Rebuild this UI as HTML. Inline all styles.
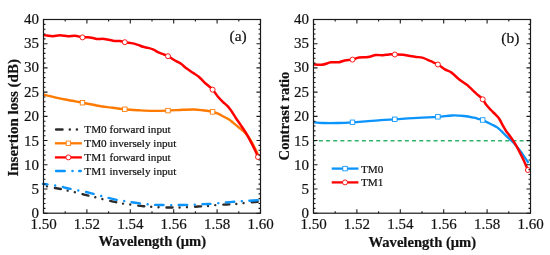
<!DOCTYPE html>
<html><head><meta charset="utf-8"><style>
html,body{margin:0;padding:0;background:#fff;}
svg{display:block;will-change:transform;}
text{font-family:"Liberation Serif",serif;fill:#111;stroke:#111;stroke-width:0.2px;}
.tk{font-size:15px;}
.lg{font-size:11.2px;}
.pl{font-size:15.5px;}
.ax{font-size:14.6px;font-weight:bold;}
</style></head><body>
<svg width="550" height="255" viewBox="0 0 550 255">
<path d="M43.00,185.60 C43.55,185.70 44.63,185.87 46.30,186.20 C47.97,186.53 50.58,187.13 53.00,187.60 C55.42,188.07 58.45,188.52 60.80,189.00 C63.15,189.48 64.82,189.98 67.10,190.50 C69.38,191.02 71.65,191.42 74.50,192.10 C77.35,192.78 80.77,193.75 84.20,194.60 C87.63,195.45 92.13,196.47 95.10,197.20 C98.07,197.93 99.18,198.32 102.00,199.00 C104.82,199.68 108.58,200.55 112.00,201.30 C115.42,202.05 119.50,202.97 122.50,203.50 C125.50,204.03 126.97,204.10 130.00,204.50 C133.03,204.90 137.20,205.52 140.70,205.90 C144.20,206.28 148.03,206.58 151.00,206.80 C153.97,207.02 155.55,207.08 158.50,207.20 C161.45,207.32 165.20,207.45 168.70,207.50 C172.20,207.55 176.45,207.55 179.50,207.50 C182.55,207.45 183.92,207.37 187.00,207.20 C190.08,207.03 194.47,206.70 198.00,206.50 C201.53,206.30 205.27,206.23 208.20,206.00 C211.13,205.77 212.55,205.35 215.60,205.10 C218.65,204.85 222.97,204.70 226.50,204.50 C230.03,204.30 233.85,204.15 236.80,203.90 C239.75,203.65 241.25,203.32 244.20,203.00 C247.15,202.68 251.78,202.25 254.50,202.00 C257.22,201.75 259.50,201.58 260.50,201.50" stroke="#2b2b2b" stroke-width="2.4" fill="none" stroke-linecap="round" stroke-dasharray="6 7 0.01 7.4 0.01 7.99" stroke-dashoffset="16.26"/>
<path d="M43.00,183.90 C43.87,183.98 46.35,184.17 48.20,184.40 C50.05,184.63 52.00,184.97 54.10,185.30 C56.20,185.63 58.77,185.95 60.80,186.40 C62.83,186.85 63.43,187.33 66.30,188.00 C69.17,188.67 74.12,189.60 78.00,190.40 C81.88,191.20 86.87,192.17 89.60,192.80 C92.33,193.43 92.58,193.70 94.40,194.20 C96.22,194.70 98.40,195.25 100.50,195.80 C102.60,196.35 104.17,196.80 107.00,197.50 C109.83,198.20 114.70,199.42 117.50,200.00 C120.30,200.58 121.72,200.67 123.80,201.00 C125.88,201.33 127.22,201.58 130.00,202.00 C132.78,202.42 137.67,203.13 140.50,203.50 C143.33,203.87 144.92,203.98 147.00,204.20 C149.08,204.42 150.17,204.67 153.00,204.80 C155.83,204.93 161.08,204.95 164.00,205.00 C166.92,205.05 168.33,205.10 170.50,205.10 C172.67,205.10 174.08,205.03 177.00,205.00 C179.92,204.97 185.17,204.95 188.00,204.90 C190.83,204.85 192.00,204.80 194.00,204.70 C196.00,204.60 197.67,204.42 200.00,204.30 C202.33,204.18 206.10,204.08 208.00,204.00 C209.90,203.92 209.70,203.95 211.40,203.80 C213.10,203.65 216.00,203.32 218.20,203.10 C220.40,202.88 221.77,202.73 224.60,202.50 C227.43,202.27 232.38,201.92 235.20,201.70 C238.02,201.48 239.30,201.35 241.50,201.20 C243.70,201.05 245.48,201.00 248.40,200.80 C251.32,200.60 256.98,200.17 259.00,200.00 C261.02,199.83 260.25,199.83 260.50,199.80" stroke="#0a94fc" stroke-width="2.4" fill="none" stroke-linecap="round" stroke-dasharray="8.1 7.7 0.1 7.7" stroke-dashoffset="3.52"/>
<path d="M43.00,94.40 C44.97,94.88 50.88,96.40 54.80,97.30 C58.72,98.20 61.90,98.90 66.50,99.80 C71.10,100.70 77.15,101.72 82.40,102.70 C87.65,103.68 93.43,104.92 98.00,105.70 C102.57,106.48 105.33,106.80 109.80,107.40 C114.27,108.00 119.92,108.82 124.80,109.30 C129.68,109.78 134.40,110.03 139.10,110.30 C143.80,110.57 148.22,110.85 153.00,110.90 C157.78,110.95 162.87,110.78 167.80,110.60 C172.73,110.42 178.17,109.98 182.60,109.80 C187.03,109.62 191.07,109.42 194.40,109.50 C197.73,109.58 199.55,109.90 202.60,110.30 C205.65,110.70 210.13,111.35 212.70,111.90 C215.27,112.45 216.12,112.78 218.00,113.60 C219.88,114.42 222.15,115.82 224.00,116.80 C225.85,117.78 227.60,118.53 229.10,119.50 C230.60,120.47 231.37,121.27 233.00,122.60 C234.63,123.93 236.92,125.82 238.90,127.50 C240.88,129.18 243.13,130.87 244.90,132.70 C246.67,134.53 248.07,136.37 249.50,138.50 C250.93,140.63 252.33,143.33 253.50,145.50 C254.67,147.67 255.67,149.75 256.50,151.50 C257.33,153.25 258.17,155.25 258.50,156.00" stroke="#ff7a00" stroke-width="2.4" fill="none"/>
<rect x="80.25" y="100.47" width="4.5" height="4.5" fill="#fff" stroke="#ff7a00" stroke-width="0.85"/>
<rect x="122.55" y="107.05" width="4.5" height="4.5" fill="#fff" stroke="#ff7a00" stroke-width="0.85"/>
<rect x="165.75" y="108.34" width="4.5" height="4.5" fill="#fff" stroke="#ff7a00" stroke-width="0.85"/>
<rect x="210.35" y="109.63" width="4.5" height="4.5" fill="#fff" stroke="#ff7a00" stroke-width="0.85"/>
<path d="M43.00,35.00 C43.67,35.10 45.33,35.40 47.00,35.60 C48.67,35.80 50.83,36.25 53.00,36.20 C55.17,36.15 57.50,35.28 60.00,35.30 C62.50,35.32 65.50,36.23 68.00,36.30 C70.50,36.37 72.58,35.52 75.00,35.70 C77.42,35.88 80.33,37.15 82.50,37.40 C84.67,37.65 86.25,37.10 88.00,37.20 C89.75,37.30 91.33,37.70 93.00,38.00 C94.67,38.30 96.17,38.85 98.00,39.00 C99.83,39.15 101.50,38.62 104.00,38.90 C106.50,39.18 110.33,40.35 113.00,40.70 C115.67,41.05 118.03,40.75 120.00,41.00 C121.97,41.25 122.63,41.80 124.80,42.20 C126.97,42.60 130.80,42.95 133.00,43.40 C135.20,43.85 136.33,44.33 138.00,44.90 C139.67,45.47 141.33,46.30 143.00,46.80 C144.67,47.30 146.33,47.47 148.00,47.90 C149.67,48.33 151.17,48.60 153.00,49.40 C154.83,50.20 157.17,51.85 159.00,52.70 C160.83,53.55 162.50,53.92 164.00,54.50 C165.50,55.08 166.17,55.20 168.00,56.20 C169.83,57.20 172.83,59.23 175.00,60.50 C177.17,61.77 179.17,62.55 181.00,63.80 C182.83,65.05 184.02,66.50 186.00,68.00 C187.98,69.50 190.77,71.35 192.90,72.80 C195.03,74.25 196.85,75.07 198.80,76.70 C200.75,78.33 202.32,80.47 204.60,82.60 C206.88,84.73 210.27,87.13 212.50,89.50 C214.73,91.87 216.28,94.75 218.00,96.80 C219.72,98.85 221.08,100.13 222.80,101.80 C224.52,103.47 226.73,105.07 228.30,106.80 C229.87,108.53 230.92,110.28 232.20,112.20 C233.48,114.12 234.60,116.18 236.00,118.30 C237.40,120.42 238.97,122.50 240.60,124.90 C242.23,127.30 244.07,129.83 245.80,132.70 C247.53,135.57 249.42,139.08 251.00,142.10 C252.58,145.12 254.13,148.32 255.30,150.80 C256.47,153.28 257.55,155.97 258.00,157.00" stroke="#ff0000" stroke-width="2.5" fill="none"/>
<circle cx="82.50" cy="37.40" r="2.5" fill="#fff" stroke="#ff0000" stroke-width="0.9"/>
<circle cx="124.80" cy="42.20" r="2.5" fill="#fff" stroke="#ff0000" stroke-width="0.9"/>
<circle cx="168.00" cy="56.20" r="2.5" fill="#fff" stroke="#ff0000" stroke-width="0.9"/>
<circle cx="212.60" cy="89.63" r="2.5" fill="#fff" stroke="#ff0000" stroke-width="0.9"/>
<circle cx="258.00" cy="157.00" r="2.5" fill="#fff" stroke="#ff0000" stroke-width="0.9"/>
<path d="M313.5,140.75H530" stroke="#2fb36a" stroke-width="1.4" stroke-dasharray="4 3.17" stroke-dashoffset="1.8"/>
<path d="M313.00,122.10 C314.67,122.25 318.83,122.85 323.00,123.00 C327.17,123.15 333.08,123.12 338.00,123.00 C342.92,122.88 347.50,122.62 352.50,122.30 C357.50,121.98 363.25,121.45 368.00,121.10 C372.75,120.75 376.50,120.50 381.00,120.20 C385.50,119.90 388.83,119.70 395.00,119.30 C401.17,118.90 410.83,118.22 418.00,117.80 C425.17,117.38 432.33,117.18 438.00,116.80 C443.67,116.42 447.67,115.63 452.00,115.50 C456.33,115.37 460.33,115.63 464.00,116.00 C467.67,116.37 471.67,117.23 474.00,117.70 C476.33,118.17 476.55,118.42 478.00,118.80 C479.45,119.18 481.13,119.40 482.70,120.00 C484.27,120.60 485.83,121.62 487.40,122.40 C488.97,123.18 490.53,123.92 492.10,124.70 C493.67,125.48 495.23,126.02 496.80,127.10 C498.37,128.18 499.93,129.73 501.50,131.20 C503.07,132.67 504.35,134.13 506.20,135.90 C508.05,137.67 510.55,139.65 512.60,141.80 C514.65,143.95 516.53,146.30 518.50,148.80 C520.47,151.30 522.73,154.43 524.40,156.80 C526.07,159.17 527.82,161.97 528.50,163.00" stroke="#0a94fc" stroke-width="2.3" fill="none"/>
<rect x="350.25" y="120.05" width="4.5" height="4.5" fill="#fff" stroke="#0a94fc" stroke-width="0.85"/>
<rect x="392.55" y="117.06" width="4.5" height="4.5" fill="#fff" stroke="#0a94fc" stroke-width="0.85"/>
<rect x="435.65" y="114.55" width="4.5" height="4.5" fill="#fff" stroke="#0a94fc" stroke-width="0.85"/>
<rect x="480.45" y="117.75" width="4.5" height="4.5" fill="#fff" stroke="#0a94fc" stroke-width="0.85"/>
<path d="M313.00,64.30 C314.50,64.38 319.00,65.13 322.00,64.80 C325.00,64.47 328.17,62.73 331.00,62.30 C333.83,61.87 336.67,62.52 339.00,62.20 C341.33,61.88 342.75,60.83 345.00,60.40 C347.25,59.97 350.17,60.10 352.50,59.60 C354.83,59.10 356.42,57.83 359.00,57.40 C361.58,56.97 365.17,57.40 368.00,57.00 C370.83,56.60 373.50,55.28 376.00,55.00 C378.50,54.72 380.83,55.40 383.00,55.30 C385.17,55.20 387.03,54.53 389.00,54.40 C390.97,54.27 392.47,54.43 394.80,54.50 C397.13,54.57 400.47,54.53 403.00,54.80 C405.53,55.07 407.83,55.75 410.00,56.10 C412.17,56.45 413.83,56.60 416.00,56.90 C418.17,57.20 420.53,57.18 423.00,57.90 C425.47,58.62 428.32,60.10 430.80,61.20 C433.28,62.30 435.55,63.13 437.90,64.50 C440.25,65.87 442.68,68.08 444.90,69.40 C447.12,70.72 448.85,70.77 451.20,72.40 C453.55,74.03 456.38,77.13 459.00,79.20 C461.62,81.27 465.07,83.40 466.90,84.80 C468.73,86.20 468.43,86.13 470.00,87.60 C471.57,89.07 474.18,91.65 476.30,93.60 C478.42,95.55 481.08,97.48 482.70,99.30 C484.32,101.12 484.63,102.72 486.00,104.50 C487.37,106.28 489.30,108.30 490.90,110.00 C492.50,111.70 494.22,113.23 495.60,114.70 C496.98,116.17 498.02,117.03 499.20,118.80 C500.38,120.57 501.53,123.23 502.70,125.30 C503.87,127.37 505.07,129.50 506.20,131.20 C507.33,132.90 508.23,133.75 509.50,135.50 C510.77,137.25 512.30,139.32 513.80,141.70 C515.30,144.08 516.93,146.87 518.50,149.80 C520.07,152.73 521.63,155.93 523.20,159.30 C524.77,162.67 527.12,168.22 527.90,170.00" stroke="#ff0000" stroke-width="2.5" fill="none"/>
<circle cx="352.50" cy="59.60" r="2.5" fill="#fff" stroke="#ff0000" stroke-width="0.9"/>
<circle cx="394.80" cy="54.50" r="2.5" fill="#fff" stroke="#ff0000" stroke-width="0.9"/>
<circle cx="437.90" cy="64.50" r="2.5" fill="#fff" stroke="#ff0000" stroke-width="0.9"/>
<circle cx="482.70" cy="99.30" r="2.5" fill="#fff" stroke="#ff0000" stroke-width="0.9"/>
<circle cx="527.90" cy="170.00" r="2.5" fill="#fff" stroke="#ff0000" stroke-width="0.9"/>
<path d="M43.50,213.20h4.00 M260.50,213.20h-4.00 M43.50,208.36h2.00 M260.50,208.36h-2.00 M43.50,203.51h2.00 M260.50,203.51h-2.00 M43.50,198.67h2.00 M260.50,198.67h-2.00 M43.50,193.83h2.00 M260.50,193.83h-2.00 M43.50,188.99h4.00 M260.50,188.99h-4.00 M43.50,184.14h2.00 M260.50,184.14h-2.00 M43.50,179.30h2.00 M260.50,179.30h-2.00 M43.50,174.46h2.00 M260.50,174.46h-2.00 M43.50,169.62h2.00 M260.50,169.62h-2.00 M43.50,164.77h4.00 M260.50,164.77h-4.00 M43.50,159.93h2.00 M260.50,159.93h-2.00 M43.50,155.09h2.00 M260.50,155.09h-2.00 M43.50,150.25h2.00 M260.50,150.25h-2.00 M43.50,145.41h2.00 M260.50,145.41h-2.00 M43.50,140.56h4.00 M260.50,140.56h-4.00 M43.50,135.72h2.00 M260.50,135.72h-2.00 M43.50,130.88h2.00 M260.50,130.88h-2.00 M43.50,126.03h2.00 M260.50,126.03h-2.00 M43.50,121.19h2.00 M260.50,121.19h-2.00 M43.50,116.35h4.00 M260.50,116.35h-4.00 M43.50,111.51h2.00 M260.50,111.51h-2.00 M43.50,106.66h2.00 M260.50,106.66h-2.00 M43.50,101.82h2.00 M260.50,101.82h-2.00 M43.50,96.98h2.00 M260.50,96.98h-2.00 M43.50,92.14h4.00 M260.50,92.14h-4.00 M43.50,87.29h2.00 M260.50,87.29h-2.00 M43.50,82.45h2.00 M260.50,82.45h-2.00 M43.50,77.61h2.00 M260.50,77.61h-2.00 M43.50,72.77h2.00 M260.50,72.77h-2.00 M43.50,67.92h4.00 M260.50,67.92h-4.00 M43.50,63.08h2.00 M260.50,63.08h-2.00 M43.50,58.24h2.00 M260.50,58.24h-2.00 M43.50,53.40h2.00 M260.50,53.40h-2.00 M43.50,48.56h2.00 M260.50,48.56h-2.00 M43.50,43.71h4.00 M260.50,43.71h-4.00 M43.50,38.87h2.00 M260.50,38.87h-2.00 M43.50,34.03h2.00 M260.50,34.03h-2.00 M43.50,29.19h2.00 M260.50,29.19h-2.00 M43.50,24.34h2.00 M260.50,24.34h-2.00 M43.50,19.50h4.00 M260.50,19.50h-4.00 M43.50,213.20v-4.00 M43.50,19.50v4.00 M65.20,213.20v-2.00 M65.20,19.50v2.00 M86.90,213.20v-4.00 M86.90,19.50v4.00 M108.60,213.20v-2.00 M108.60,19.50v2.00 M130.30,213.20v-4.00 M130.30,19.50v4.00 M152.00,213.20v-2.00 M152.00,19.50v2.00 M173.70,213.20v-4.00 M173.70,19.50v4.00 M195.40,213.20v-2.00 M195.40,19.50v2.00 M217.10,213.20v-4.00 M217.10,19.50v4.00 M238.80,213.20v-2.00 M238.80,19.50v2.00 M260.50,213.20v-4.00 M260.50,19.50v4.00" stroke="#1a1a1a" stroke-width="1.1" fill="none"/><rect x="43.50" y="19.50" width="217.00" height="193.70" fill="none" stroke="#1a1a1a" stroke-width="1.2"/><text x="39.00" y="218.20" class="tk" text-anchor="end">0</text><text x="39.00" y="193.99" class="tk" text-anchor="end">5</text><text x="39.00" y="169.77" class="tk" text-anchor="end">10</text><text x="39.00" y="145.56" class="tk" text-anchor="end">15</text><text x="39.00" y="121.35" class="tk" text-anchor="end">20</text><text x="39.00" y="96.84" class="tk" text-anchor="end">25</text><text x="39.00" y="72.33" class="tk" text-anchor="end">30</text><text x="39.00" y="47.91" class="tk" text-anchor="end">35</text><text x="39.00" y="23.50" class="tk" text-anchor="end">40</text><text x="43.50" y="229.20" class="tk" text-anchor="middle">1.50</text><text x="86.90" y="229.20" class="tk" text-anchor="middle">1.52</text><text x="130.30" y="229.20" class="tk" text-anchor="middle">1.54</text><text x="173.70" y="229.20" class="tk" text-anchor="middle">1.56</text><text x="217.10" y="229.20" class="tk" text-anchor="middle">1.58</text><text x="260.50" y="229.20" class="tk" text-anchor="middle">1.60</text>
<path d="M313.50,213.20h4.00 M530.50,213.20h-4.00 M313.50,208.36h2.00 M530.50,208.36h-2.00 M313.50,203.51h2.00 M530.50,203.51h-2.00 M313.50,198.67h2.00 M530.50,198.67h-2.00 M313.50,193.83h2.00 M530.50,193.83h-2.00 M313.50,188.99h4.00 M530.50,188.99h-4.00 M313.50,184.14h2.00 M530.50,184.14h-2.00 M313.50,179.30h2.00 M530.50,179.30h-2.00 M313.50,174.46h2.00 M530.50,174.46h-2.00 M313.50,169.62h2.00 M530.50,169.62h-2.00 M313.50,164.77h4.00 M530.50,164.77h-4.00 M313.50,159.93h2.00 M530.50,159.93h-2.00 M313.50,155.09h2.00 M530.50,155.09h-2.00 M313.50,150.25h2.00 M530.50,150.25h-2.00 M313.50,145.41h2.00 M530.50,145.41h-2.00 M313.50,140.56h4.00 M530.50,140.56h-4.00 M313.50,135.72h2.00 M530.50,135.72h-2.00 M313.50,130.88h2.00 M530.50,130.88h-2.00 M313.50,126.03h2.00 M530.50,126.03h-2.00 M313.50,121.19h2.00 M530.50,121.19h-2.00 M313.50,116.35h4.00 M530.50,116.35h-4.00 M313.50,111.51h2.00 M530.50,111.51h-2.00 M313.50,106.66h2.00 M530.50,106.66h-2.00 M313.50,101.82h2.00 M530.50,101.82h-2.00 M313.50,96.98h2.00 M530.50,96.98h-2.00 M313.50,92.14h4.00 M530.50,92.14h-4.00 M313.50,87.29h2.00 M530.50,87.29h-2.00 M313.50,82.45h2.00 M530.50,82.45h-2.00 M313.50,77.61h2.00 M530.50,77.61h-2.00 M313.50,72.77h2.00 M530.50,72.77h-2.00 M313.50,67.92h4.00 M530.50,67.92h-4.00 M313.50,63.08h2.00 M530.50,63.08h-2.00 M313.50,58.24h2.00 M530.50,58.24h-2.00 M313.50,53.40h2.00 M530.50,53.40h-2.00 M313.50,48.56h2.00 M530.50,48.56h-2.00 M313.50,43.71h4.00 M530.50,43.71h-4.00 M313.50,38.87h2.00 M530.50,38.87h-2.00 M313.50,34.03h2.00 M530.50,34.03h-2.00 M313.50,29.19h2.00 M530.50,29.19h-2.00 M313.50,24.34h2.00 M530.50,24.34h-2.00 M313.50,19.50h4.00 M530.50,19.50h-4.00 M313.50,213.20v-4.00 M313.50,19.50v4.00 M335.20,213.20v-2.00 M335.20,19.50v2.00 M356.90,213.20v-4.00 M356.90,19.50v4.00 M378.60,213.20v-2.00 M378.60,19.50v2.00 M400.30,213.20v-4.00 M400.30,19.50v4.00 M422.00,213.20v-2.00 M422.00,19.50v2.00 M443.70,213.20v-4.00 M443.70,19.50v4.00 M465.40,213.20v-2.00 M465.40,19.50v2.00 M487.10,213.20v-4.00 M487.10,19.50v4.00 M508.80,213.20v-2.00 M508.80,19.50v2.00 M530.50,213.20v-4.00 M530.50,19.50v4.00" stroke="#1a1a1a" stroke-width="1.1" fill="none"/><rect x="313.50" y="19.50" width="217.00" height="193.70" fill="none" stroke="#1a1a1a" stroke-width="1.2"/><text x="309.00" y="218.20" class="tk" text-anchor="end">0</text><text x="309.00" y="193.99" class="tk" text-anchor="end">5</text><text x="309.00" y="169.77" class="tk" text-anchor="end">10</text><text x="309.00" y="145.56" class="tk" text-anchor="end">15</text><text x="309.00" y="121.35" class="tk" text-anchor="end">20</text><text x="309.00" y="96.84" class="tk" text-anchor="end">25</text><text x="309.00" y="72.33" class="tk" text-anchor="end">30</text><text x="309.00" y="47.91" class="tk" text-anchor="end">35</text><text x="309.00" y="23.50" class="tk" text-anchor="end">40</text><text x="313.50" y="229.20" class="tk" text-anchor="middle">1.50</text><text x="356.90" y="229.20" class="tk" text-anchor="middle">1.52</text><text x="400.30" y="229.20" class="tk" text-anchor="middle">1.54</text><text x="443.70" y="229.20" class="tk" text-anchor="middle">1.56</text><text x="487.10" y="229.20" class="tk" text-anchor="middle">1.58</text><text x="530.50" y="229.20" class="tk" text-anchor="middle">1.60</text>
<path d="M56.1,129.6H62.5M69.8,129.6h0.01M76.9,129.6h0.01" stroke="#2b2b2b" stroke-width="2.5" stroke-linecap="round"/>
<path d="M54.90,143.30H81.90" stroke="#ff7a00" stroke-width="2.30"/><rect x="66.15" y="141.05" width="4.5" height="4.5" fill="#fff" stroke="#ff7a00" stroke-width="0.85"/>
<path d="M54.90,157.40H81.90" stroke="#ff0000" stroke-width="2.30"/><circle cx="68.40" cy="157.40" r="2.5" fill="#fff" stroke="#ff0000" stroke-width="0.9"/>
<path d="M56.1,171.1H64.7M72.5,171.1h0.01M79.2,171.1H80.7" stroke="#0a94fc" stroke-width="2.5" stroke-linecap="round"/>
<text x="84.3" y="133.40" class="lg">TM0 forward input</text>
<text x="84.3" y="147.30" class="lg">TM0 inversely input</text>
<text x="84.3" y="161.10" class="lg">TM1 forward input</text>
<text x="84.3" y="175.00" class="lg">TM1 inversely input</text>
<path d="M331.70,168.60H358.40" stroke="#0a94fc" stroke-width="2.30"/><rect x="342.80" y="166.35" width="4.5" height="4.5" fill="#fff" stroke="#0a94fc" stroke-width="0.85"/>
<path d="M331.70,182.40H358.40" stroke="#ff0000" stroke-width="2.30"/><circle cx="345.05" cy="182.40" r="2.5" fill="#fff" stroke="#ff0000" stroke-width="0.9"/>
<text x="361" y="172.6" class="lg">TM0</text>
<text x="361" y="186.4" class="lg">TM1</text>
<text x="229.5" y="41.3" class="pl">(a)</text>
<text x="501.3" y="43.2" class="pl">(b)</text>
<text x="152.3" y="246.2" class="ax" text-anchor="middle">Wavelength (μm)</text>
<text x="422.3" y="246.5" class="ax" text-anchor="middle">Wavelength (μm)</text>
<text transform="translate(18.4,117.8) rotate(-90)" class="ax" text-anchor="middle" style="font-size:15px">Insertion loss (dB)</text>
<text transform="translate(289,116) rotate(-90)" class="ax" text-anchor="middle">Contrast ratio</text>
</svg>
</body></html>
